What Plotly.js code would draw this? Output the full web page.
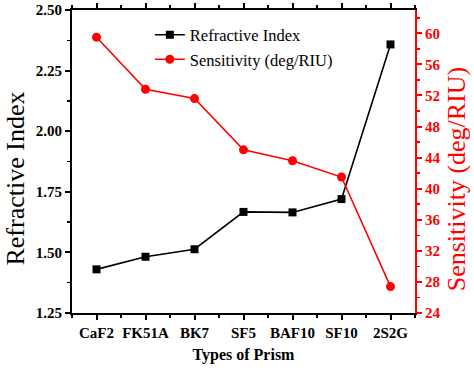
<!DOCTYPE html>
<html>
<head>
<meta charset="utf-8">
<script src="https://cdn.plot.ly/plotly-3.0.1.min.js"></script>
<style>html,body{margin:0;padding:0;background:#fff;}#chart{width:474px;height:373px;}</style>
</head>
<body>
<div id="chart"></div>
<script>
const prisms = ["CaF2", "FK51A", "BK7", "SF5", "BAF10", "SF10", "2S2G"];
const refractiveIndex = [1.430, 1.482, 1.513, 1.667, 1.665, 1.720, 2.358];
const sensitivity = [59.5, 52.8, 51.6, 45.0, 43.6, 41.5, 27.4];
const leftTicks = [1.25, 1.50, 1.75, 2.00, 2.25, 2.50];
const rightTicks = [24, 28, 32, 36, 40, 44, 48, 52, 56, 60];

const xIdx = prisms.map((_, i) => i);
const FONT = "Liberation Serif, Times New Roman, serif";

const traces = [
  {
    x: xIdx, y: refractiveIndex, name: "Refractive Index", type: "scatter", mode: "lines+markers",
    line: {color: "#000000", width: 1.6}, marker: {symbol: "square", size: 8, color: "#000000"},
    yaxis: "y"
  },
  {
    x: xIdx, y: sensitivity, name: "Sensitivity (deg/RIU)", type: "scatter", mode: "lines+markers",
    line: {color: "#ff0000", width: 1.6}, marker: {symbol: "circle", size: 9, color: "#ff0000"},
    yaxis: "y2"
  }
];

const layout = {
  width: 474, height: 373,
  margin: {l: 72, r: 59, t: 10, b: 60},
  paper_bgcolor: "#ffffff", plot_bgcolor: "#ffffff",
  font: {family: FONT, color: "#000000"},
  showlegend: true,
  legend: {x: 0.227, y: 0.975, xanchor: "left", yanchor: "top", bgcolor: "rgba(0,0,0,0)",
           font: {family: FONT, size: 16.5, color: "#000"}, tracegroupgap: 0},
  xaxis: {
    range: [-0.5, 6.5], tickvals: xIdx, ticktext: prisms,
    showgrid: false, zeroline: false,
    showline: true, linecolor: "#000", linewidth: 2, mirror: "ticks",
    ticks: "outside", ticklen: 5, tickwidth: 2, tickcolor: "#000",
    minor: {dtick: 0.5, tick0: -0.5, ticks: "outside", ticklen: 3, tickwidth: 1.5, tickcolor: "#000", showgrid: false},
    tickfont: {family: FONT, size: 15, weight: "bold", color: "#000"},
    title: {text: "Types of Prism", font: {family: FONT, size: 16, weight: "bold", color: "#000"}, standoff: 9}
  },
  yaxis: {
    range: [1.25, 2.5], tickvals: leftTicks, ticktext: leftTicks.map(v => v.toFixed(2)),
    showgrid: false, zeroline: false,
    showline: true, linecolor: "#000", linewidth: 2,
    ticks: "outside", ticklen: 5, tickwidth: 2, tickcolor: "#000",
    minor: {dtick: 0.125, tick0: 1.25, ticks: "outside", ticklen: 3, tickwidth: 1.5, tickcolor: "#000", showgrid: false},
    tickfont: {family: FONT, size: 15, weight: "bold", color: "#000"}
  },
  yaxis2: {
    overlaying: "y", side: "right",
    range: [24, 63], tickvals: rightTicks, ticktext: rightTicks.map(String),
    showgrid: false, zeroline: false,
    showline: true, linecolor: "#ff0000", linewidth: 2,
    ticks: "outside", ticklen: 5, tickwidth: 2, tickcolor: "#ff0000",
    minor: {dtick: 2, tick0: 24, ticks: "outside", ticklen: 3, tickwidth: 1.5, tickcolor: "#ff0000", showgrid: false},
    tickfont: {family: FONT, size: 15, weight: "bold", color: "#ff0000"}
  },
  annotations: [
    {text: "Refractive Index", xref: "paper", yref: "paper", x: -0.166, y: 0.444,
     xanchor: "center", yanchor: "middle", textangle: -90, showarrow: false,
     font: {family: FONT, size: 26, color: "#000"}},
    {text: "Sensitivity (deg/RIU)", xref: "paper", yref: "paper", x: 1.122, y: 0.444,
     xanchor: "center", yanchor: "middle", textangle: -90, showarrow: false,
     font: {family: FONT, size: 26, color: "#ff0000"}}
  ]
};

Plotly.newPlot("chart", traces, layout, {displayModeBar: false, staticPlot: true});
</script>
</body>
</html>
